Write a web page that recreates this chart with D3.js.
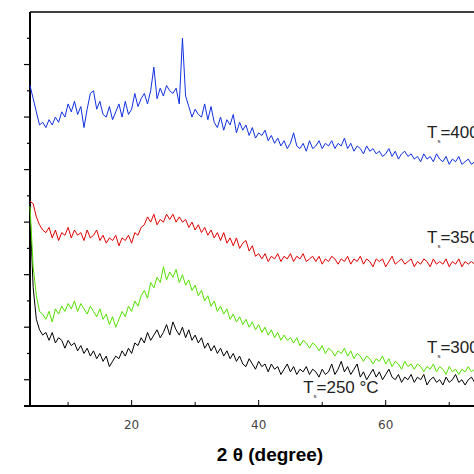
<!DOCTYPE html>
<html><head><meta charset="utf-8">
<script src="https://cdn.jsdelivr.net/npm/d3@7"></script>
<style>body{margin:0;background:#fff}</style>
</head><body>
<svg id="chart" width="474" height="474"></svg>
<script>
// XRD patterns, 2θ from 4 to 74 in 0.5° steps
const x0 = 4, step = 0.5;
const blue = [12.2,11.7,11.2,10.7,10.8,10.6,10.9,10.7,11.0,10.8,
11.2,11.0,11.5,11.2,11.6,11.1,11.4,10.6,11.3,11.9,
12.0,11.3,11.6,11.1,11.0,11.4,10.9,11.2,11.5,11.0,
11.6,11.1,11.3,11.9,11.4,11.7,11.9,11.5,12.0,12.9,
11.7,12.1,11.8,12.2,12.0,11.9,12.1,11.5,14.0,11.8,
11.4,11.0,11.3,11.1,11.0,11.5,10.9,11.4,10.8,10.6,
11.0,10.5,10.9,10.7,11.1,10.4,10.8,10.5,10.7,10.3,
10.6,10.2,10.4,10.3,10.5,10.1,10.3,10.0,10.2,9.9,
10.1,9.8,10.0,10.4,9.9,9.8,10.0,9.7,10.1,9.8,
9.9,10.1,9.8,10.0,9.9,10.1,9.8,10.0,9.9,10.2,
9.8,10.0,9.7,9.9,9.8,9.6,9.9,9.7,9.8,9.6,
9.7,9.5,9.6,9.8,9.5,9.7,9.4,9.6,9.7,9.5,
9.6,9.4,9.5,9.3,9.6,9.4,9.5,9.3,9.6,9.4,
9.3,9.5,9.2,9.4,9.3,9.5,9.2,9.3,9.4,9.2,9.3];
const red = [7.8,7.7,7.2,6.9,6.7,6.6,6.8,6.4,6.7,6.3,
6.6,6.5,6.8,6.4,6.7,6.5,6.6,6.3,6.7,6.4,
6.5,6.7,6.3,6.5,6.2,6.4,6.3,6.5,6.1,6.4,
6.3,6.5,6.2,6.6,6.5,6.8,6.9,7.2,7.0,7.3,
6.9,7.1,7.0,7.3,7.1,7.3,7.0,7.2,7.0,7.1,
6.8,7.0,6.7,6.9,6.6,6.8,6.5,6.7,6.4,6.6,
6.3,6.6,6.2,6.4,6.1,6.4,6.0,6.2,6.3,5.9,
6.1,5.7,5.8,5.6,5.8,5.5,5.7,5.6,5.8,5.5,
5.7,5.6,5.8,5.5,5.7,5.6,5.8,5.5,5.6,5.7,
5.5,5.7,5.4,5.6,5.5,5.7,5.6,5.4,5.6,5.5,
5.7,5.4,5.6,5.5,5.7,5.4,5.6,5.5,5.3,5.6,
5.5,5.6,5.3,5.5,5.7,5.4,5.5,5.6,5.4,5.5,
5.6,5.3,5.5,5.4,5.6,5.5,5.3,5.6,5.4,5.5,
5.4,5.6,5.3,5.5,5.4,5.6,5.3,5.5,5.4,5.5,5.4];
const green = [7.6,5.3,4.2,3.6,3.5,3.3,3.6,3.2,3.7,3.5,
3.8,3.6,3.9,3.7,4.0,3.6,3.9,3.7,3.5,3.8,
3.6,3.4,3.7,3.3,3.5,3.1,3.4,3.0,3.3,3.6,
3.4,3.8,3.6,4.0,3.8,4.2,4.4,4.1,4.7,4.5,
4.9,4.7,5.3,4.8,5.1,4.9,5.2,4.7,5.0,4.6,
4.8,4.4,4.6,4.2,4.4,4.0,4.2,3.8,4.0,3.6,
3.8,3.5,3.7,3.3,3.5,3.2,3.4,3.1,3.3,3.0,
3.2,2.9,3.1,2.8,3.0,2.7,2.9,2.6,2.8,2.5,
2.7,2.5,2.6,2.4,2.6,2.3,2.5,2.4,2.2,2.4,
2.3,2.1,2.3,2.0,2.2,2.1,1.9,2.1,2.0,2.2,
1.9,2.1,1.8,2.0,1.9,1.7,1.9,1.8,1.6,1.8,
1.7,1.9,1.6,1.8,1.5,1.7,1.6,1.4,1.7,1.5,
1.6,1.4,1.6,1.5,1.3,1.5,1.4,1.6,1.3,1.5,
1.4,1.2,1.5,1.3,1.4,1.2,1.4,1.3,1.5,1.3,1.4];
const black = [7.4,4.5,3.3,2.9,2.7,2.8,2.5,2.8,2.4,2.6,
2.5,2.2,2.5,2.3,2.4,2.1,2.3,2.0,2.2,1.9,
2.1,1.8,2.0,1.7,1.9,1.5,1.7,1.9,1.8,2.1,
1.9,2.2,2.0,2.4,2.3,2.6,2.4,2.8,2.5,2.7,
2.9,2.6,2.8,3.1,2.7,3.2,2.9,2.7,3.0,2.6,
2.9,2.5,2.7,2.4,2.6,2.2,2.4,2.1,2.3,2.0,
2.2,1.9,2.1,1.8,2.0,1.7,1.9,1.6,1.5,1.8,
1.6,1.4,1.7,1.5,1.6,1.3,1.6,1.4,1.5,1.2,
1.4,1.6,1.3,1.5,1.2,1.4,1.3,1.5,1.2,1.4,
1.3,1.1,1.4,1.2,1.3,1.6,1.2,1.4,1.7,1.3,
1.5,1.2,1.4,1.6,1.1,1.3,1.0,1.2,1.4,1.1,
1.3,1.0,1.2,1.4,1.1,1.0,1.2,0.9,1.1,1.0,
1.2,0.9,1.1,1.0,1.2,0.8,1.0,1.1,0.9,1.0,
0.8,1.1,0.9,1.0,1.2,0.9,1.0,0.8,1.0,1.1,0.9];
const series = [
  {vals: black, color: "#000000"},
  {vals: green, color: "#55e000"},
  {vals: red, color: "#e00000"},
  {vals: blue, color: "#1030e0"}
];
const labels = [
  {t: "400", xv: 66.5, yv: 10.2, unit: ""},
  {t: "350", xv: 66.5, yv: 6.2, unit: ""},
  {t: "300", xv: 66.5, yv: 2.0, unit: ""},
  {t: "250", xv: 47, yv: 0.5, unit: " \u00B0C"}
];
const xTicks = [20, 40, 60];

const svg = d3.select("#chart");
const x = d3.scaleLinear().domain([4, 73.9]).range([30, 474]);
const y = d3.scaleLinear().domain([0, 15]).range([406, 12]);

// frame
svg.append("line").attr("x1", 30).attr("x2", 30).attr("y1", 12).attr("y2", 406)
  .attr("stroke", "#000").attr("stroke-width", 2);
svg.append("line").attr("x1", 30).attr("x2", 474).attr("y1", 12).attr("y2", 12)
  .attr("stroke", "#000").attr("stroke-width", 1.5);
svg.append("line").attr("x1", 24).attr("x2", 474).attr("y1", 406).attr("y2", 406)
  .attr("stroke", "#000").attr("stroke-width", 2);

// y ticks (no labels)
d3.range(1, 15).forEach((v, i) => {
  svg.append("line").attr("x1", i % 2 ? 27 : 24).attr("x2", 30)
    .attr("y1", y(v)).attr("y2", y(v)).attr("stroke", "#000").attr("stroke-width", 1.2);
});
// x ticks
d3.range(10, 74, 10).forEach(v => {
  svg.append("line").attr("x1", x(v)).attr("x2", x(v))
    .attr("y1", 406).attr("y2", v % 20 ? 402 : 400).attr("stroke", "#000");
});
svg.selectAll(".xl").data(xTicks).join("text")
  .attr("x", d => x(d)).attr("y", 429).attr("text-anchor", "middle")
  .attr("font-family", "DejaVu Sans").attr("font-size", 12).attr("fill", "#444")
  .text(d => d);

// curves
const line = d3.line().x((d, i) => x(x0 + i * step)).y(d => y(d));
series.forEach(s => {
  svg.append("path").datum(s.vals).attr("d", line)
    .attr("fill", "none").attr("stroke", s.color).attr("stroke-width", 1);
});

// labels
labels.forEach(l => {
  const t = svg.append("text").attr("x", x(l.xv)).attr("y", y(l.yv))
    .attr("font-family", "Liberation Sans").attr("font-size", 17).attr("fill", "#222");
  t.append("tspan").text("T");
  t.append("tspan").attr("font-size", 6).attr("dy", 5).text("s");
  t.append("tspan").attr("dy", -5).text("=" + l.t + l.unit);
});

svg.append("text").attr("x", 270).attr("y", 461).attr("text-anchor", "middle")
  .attr("font-family", "Liberation Sans").attr("font-weight", "bold").attr("font-size", 19)
  .text("2 \u03B8 (degree)");
</script>
</body></html>
